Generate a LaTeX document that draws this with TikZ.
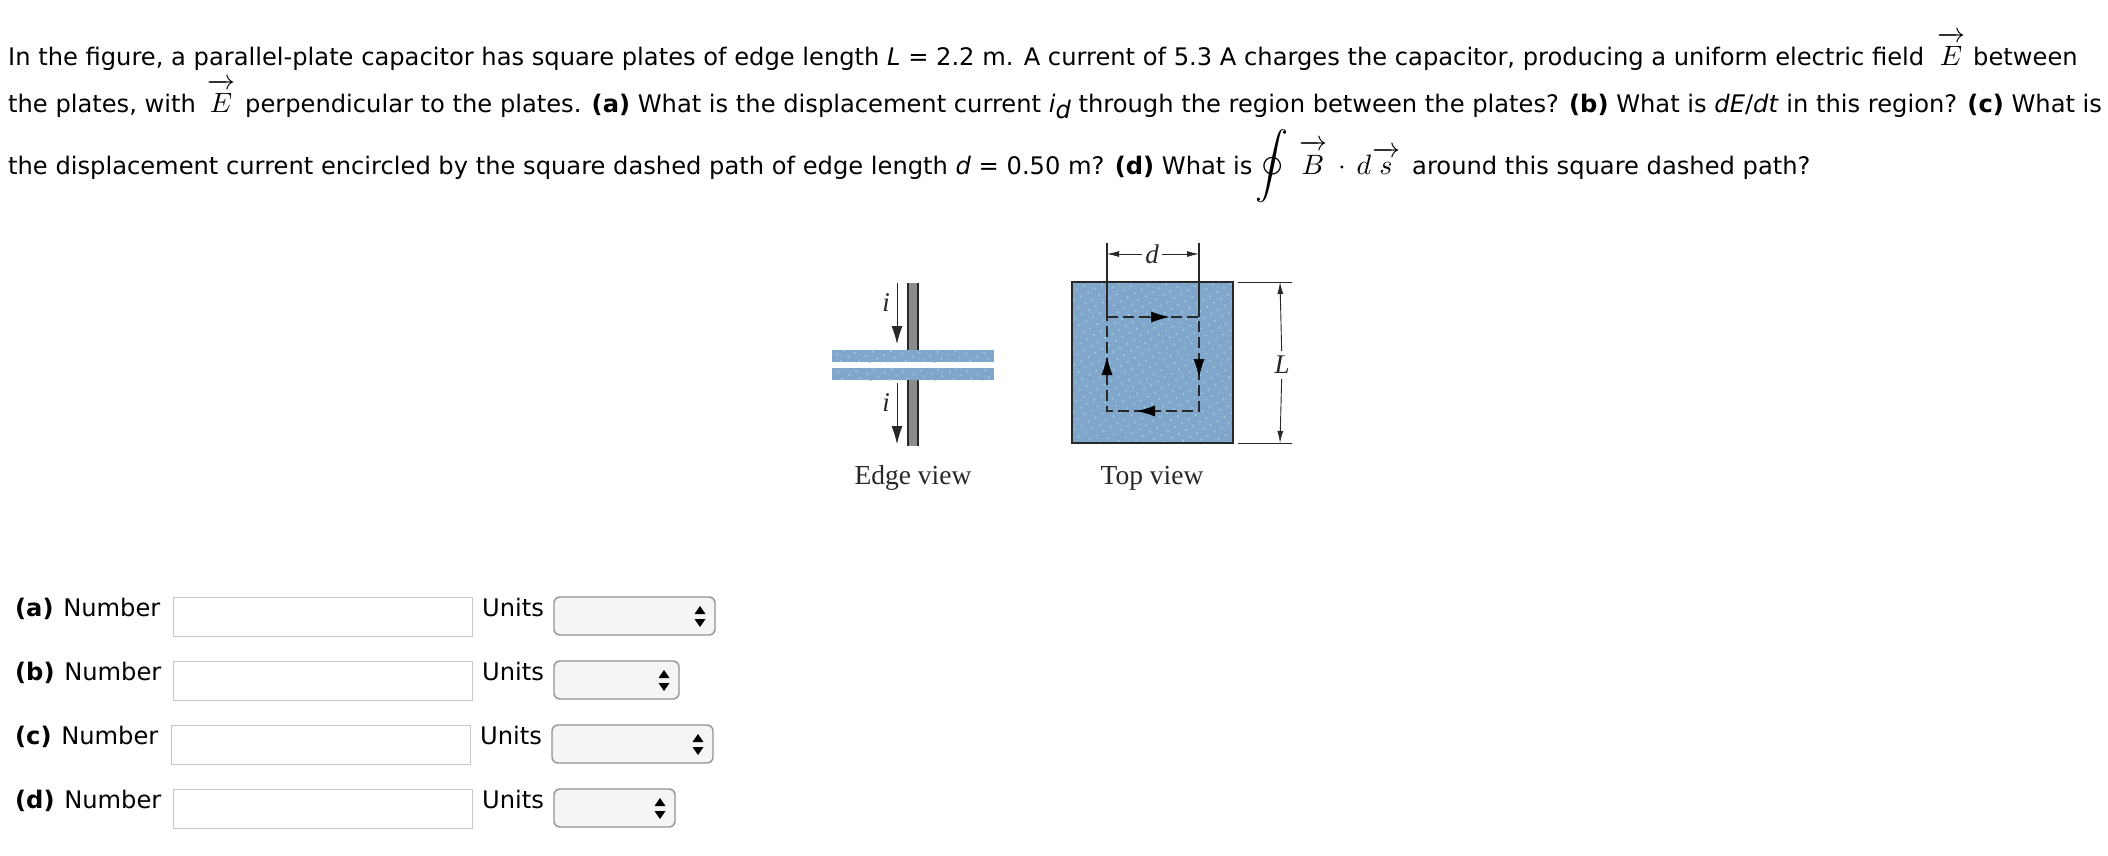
\documentclass[tikz,border=0pt]{standalone}
\usepackage{fontspec}
\setmainfont{DejaVu Sans}
\newfontfamily\figfont{Liberation Serif}
\usetikzlibrary{arrows.meta,patterns.meta}
\newcommand{\vecsym}[3][9.3pt]{$\overrightarrow{\mkern#3mu\rule{0pt}{#1}#2\mkern#3mu}$}
\definecolor{plateblue}{RGB}{128,166,203}
\definecolor{speckle}{RGB}{150,205,215}
\definecolor{inkgray}{RGB}{40,40,40}
\tikzset{
    prose/.style={anchor=base west,inner sep=0pt,font=\fontsize{24.17}{28}\selectfont},
    mathsym/.style={anchor=base,inner sep=0pt,scale=2.8},
    figlabel/.style={inner sep=0pt,text=inkgray,font=\figfont\fontsize{27.5}{30}\selectfont},
    figital/.style={inner sep=0pt,text=inkgray,font=\figfont\itshape\fontsize{27}{28}\selectfont},
    fieldbox/.style={draw=black!22,line width=1.2pt,fill=white},
    selectbox/.style={draw=black!42,line width=1.4pt,fill=black!4,rounded corners=6pt},
    wire/.style={draw=inkgray,line width=1.6pt},
    dimline/.style={draw=inkgray,line width=0.9pt},
    loopline/.style={draw=inkgray,line width=1.3pt,dash pattern=on 11pt off 5pt},
    platefill/.style={preaction={fill=plateblue},pattern={Dots[distance=8pt,radius=1.2pt,angle=30]},pattern color=speckle},
    flowtip/.style={-{Latex[length=18pt,width=11pt]}},
    smalltip/.style={{Latex[length=12pt,width=6pt]}-}
}
\begin{document}
\begin{tikzpicture}[x=1pt,y=-1pt]
    \useasboundingbox (0,0) rectangle (2108,856);
    % question text
    \node[prose] (lineA) at (8,66) {In the figure, a parallel-plate capacitor has square plates of edge length \textit{L} = 2.2 m. A current of 5.3 A charges the capacitor, producing a uniform electric field};
    \node[mathsym] (fieldA) at (1951,66) {\vecsym{E}{1}};
    \node[prose] (lineAend) at (1973,66) {between};
    \node[prose] (lineB) at (8,113) {the plates, with};
    \node[mathsym] (fieldB) at (221,113) {\vecsym{E}{1}};
    \node[prose] (lineBend) at (245,113) {perpendicular to the plates. \textbf{(a)} What is the displacement current \textit{i}\raisebox{-6pt}{\textit{d}} through the region between the plates? \textbf{(b)} What is \textit{dE}/\textit{dt} in this region? \textbf{(c)} What is};
    \node[prose] (lineC) at (8,174) {the displacement current encircled by the square dashed path of edge length \textit{d} = 0.50 m? \textbf{(d)} What is};
    \node[inner sep=0pt,scale=3.3] (loopint) at (1272,166) {$\displaystyle\oint$};
    \node[mathsym] (fieldBm) at (1313,174) {\vecsym{B}{1}};
    \node[mathsym] (dotop) at (1342,174) {$\cdot$};
    \node[mathsym] (stepd) at (1364,174) {$d$};
    \node[mathsym] (steps) at (1386,174) {\vecsym[6.8pt]{s}{4.5}};
    \node[prose] (lineCend) at (1412,174) {around this square dashed path?};
    % edge view
    \fill[black!45] (908,283) rectangle (918,350);
    \fill[black!45] (908,380) rectangle (918,446);
    \draw (908,283) coordinate (wireAl);
    \draw (918,283) coordinate (wireAr);
    \draw (908,350) coordinate (wireBl);
    \draw (918,350) coordinate (wireBr);
    \draw (908,380) coordinate (wireCl);
    \draw (918,380) coordinate (wireCr);
    \draw (908,446) coordinate (wireDl);
    \draw (918,446) coordinate (wireDr);
    \draw[wire] (wireAl) -- (wireBl);
    \draw[wire] (wireAr) -- (wireBr);
    \draw[wire] (wireCl) -- (wireDl);
    \draw[wire] (wireCr) -- (wireDr);
    \path[platefill] (832,350) rectangle (994,362);
    \path[platefill] (832,368) rectangle (994,380);
    \draw (897,283) coordinate (iAtop);
    \draw (897,344) coordinate (iAend);
    \draw (897,383) coordinate (iBtop);
    \draw (897,444) coordinate (iBend);
    \draw[dimline,flowtip] (iAtop) -- (iAend);
    \draw[dimline,flowtip] (iBtop) -- (iBend);
    \node[figital] (iA) at (886,303) {i};
    \node[figital] (iB) at (886,403) {i};
    \node[figlabel] (edgeview) at (913,478) {Edge view};
    % top view
    \path[platefill] (1072,282) rectangle (1233,443);
    \draw[inkgray,line width=1.6pt] (1072,282) rectangle (1233,443);
    \draw (1107,243) coordinate (dA);
    \draw (1199,243) coordinate (dB);
    \draw (1107,317) coordinate (P);
    \draw (1199,317) coordinate (Q);
    \draw (1199,411) coordinate (R);
    \draw (1107,411) coordinate (S);
    \draw[wire] (dA) -- (P);
    \draw[wire] (dB) -- (Q);
    \draw[loopline] (P) -- (Q) -- (R) -- (S) -- cycle;
    \draw (1107,254) coordinate (dimA);
    \draw (1199,254) coordinate (dimB);
    \node[figital,fill=white,inner xsep=3pt] (dlabel) at (1152,254) {d};
    \draw[dimline,smalltip] (dimA) -- (dlabel);
    \draw[dimline,smalltip] (dimB) -- (dlabel);
    \draw (1150,317) coordinate (topA);
    \draw (1169,317) coordinate (topB);
    \draw (1199,358) coordinate (rightA);
    \draw (1199,377) coordinate (rightB);
    \draw (1155,411) coordinate (botA);
    \draw (1137,411) coordinate (botB);
    \draw (1107,376) coordinate (leftA);
    \draw (1107,357) coordinate (leftB);
    \draw[flowtip,black,line width=0.5pt] (topA) -- (topB);
    \draw[flowtip,black,line width=0.5pt] (rightA) -- (rightB);
    \draw[flowtip,black,line width=0.5pt] (botA) -- (botB);
    \draw[flowtip,black,line width=0.5pt] (leftA) -- (leftB);
    \draw (1238,282) coordinate (tickAl);
    \draw (1292,282) coordinate (tickAr);
    \draw (1238,443) coordinate (tickBl);
    \draw (1292,443) coordinate (tickBr);
    \draw[dimline] (tickAl) -- (tickAr);
    \draw[dimline] (tickBl) -- (tickBr);
    \draw (1280,282) coordinate (dimC);
    \draw (1280,443) coordinate (dimD);
    \node[figital,fill=white,inner ysep=5pt] (Llabel) at (1282,365) {L};
    \draw[dimline,smalltip] (dimC) -- (Llabel);
    \draw[dimline,smalltip] (dimD) -- (Llabel);
    \node[figlabel] (topview) at (1152,478) {Top view};
    % answer rows
    \node[prose] (partA) at (15,616) {\textbf{(a)}\hspace{2pt} Number};
    \node[fieldbox,anchor=north west,minimum width=299pt,minimum height=39pt] (numA) at (173,597) {};
    \node[prose] (unitA) at (482,616) {Units};
    \draw[selectbox] (554,597) rectangle (715,635);
    \fill (700,606) coordinate (spinA) -- ++(-5.5,8) -- ++(11,0) -- cycle;
    \fill (700,627) -- ++(-5.5,-8) -- ++(11,0) -- cycle;
    \node[prose] (partB) at (15,680) {\textbf{(b)}\hspace{2pt} Number};
    \node[fieldbox,anchor=north west,minimum width=299pt,minimum height=39pt] (numB) at (173,661) {};
    \node[prose] (unitB) at (482,680) {Units};
    \draw[selectbox] (554,661) rectangle (679,699);
    \fill (664,670) coordinate (spinB) -- ++(-5.5,8) -- ++(11,0) -- cycle;
    \fill (664,691) -- ++(-5.5,-8) -- ++(11,0) -- cycle;
    \node[prose] (partC) at (15,744) {\textbf{(c)}\hspace{2pt} Number};
    \node[fieldbox,anchor=north west,minimum width=299pt,minimum height=39pt] (numC) at (171,725) {};
    \node[prose] (unitC) at (480,744) {Units};
    \draw[selectbox] (552,725) rectangle (713,763);
    \fill (698,734) coordinate (spinC) -- ++(-5.5,8) -- ++(11,0) -- cycle;
    \fill (698,755) -- ++(-5.5,-8) -- ++(11,0) -- cycle;
    \node[prose] (partD) at (15,808) {\textbf{(d)}\hspace{2pt} Number};
    \node[fieldbox,anchor=north west,minimum width=299pt,minimum height=39pt] (numD) at (173,789) {};
    \node[prose] (unitD) at (482,808) {Units};
    \draw[selectbox] (554,789) rectangle (675,827);
    \fill (660,798) coordinate (spinD) -- ++(-5.5,8) -- ++(11,0) -- cycle;
    \fill (660,819) -- ++(-5.5,-8) -- ++(11,0) -- cycle;
\end{tikzpicture}
\end{document}
